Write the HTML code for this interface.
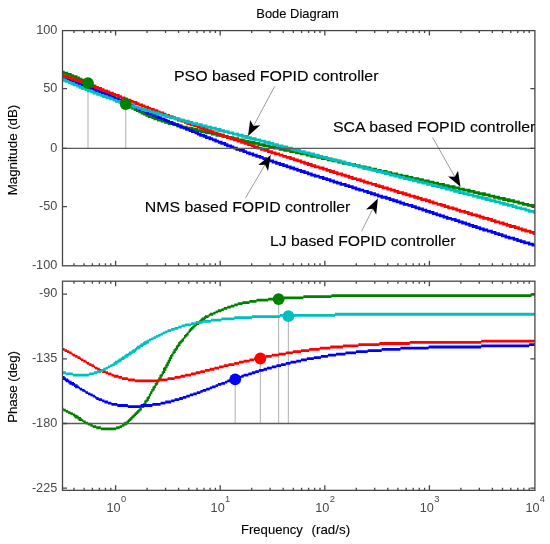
<!DOCTYPE html>
<html><head><meta charset="utf-8"><title>Bode Diagram</title>
<style>html,body{margin:0;padding:0;background:#fff}svg{display:block}</style></head>
<body>
<svg width="550" height="544" viewBox="0 0 550 544" style="display:block" font-family='"Liberation Sans", Arial, Helvetica, sans-serif'>
<rect width="550" height="544" fill="#fff"/>
<defs><clipPath id="c1"><rect x="62.5" y="30.6" width="472.4" height="235.20000000000002"/></clipPath><clipPath id="c2"><rect x="62.5" y="281.2" width="472.4" height="209.15000000000003"/></clipPath></defs>
<line x1="88.0" x2="88.0" y1="83.1" y2="148.3" stroke="#bcbcbc" stroke-width="1.2"/>
<line x1="125.7" x2="125.7" y1="104.0" y2="148.3" stroke="#bcbcbc" stroke-width="1.2"/>
<g clip-path="url(#c1)" fill="none" stroke-linejoin="round">
<path d="M59.97,69.50L61.14,69.50L61.14,70.67L64.65,70.67L64.65,71.84L68.16,71.84L68.16,73.01L71.67,73.01L71.67,74.18L74.01,74.18L74.01,75.35L77.52,75.35L77.52,76.52L79.86,76.52L79.86,77.69L82.20,77.69L82.20,78.86L84.54,78.86L84.54,80.03L86.88,80.03L86.88,81.20L89.22,81.20L89.22,82.37L91.56,82.37L91.56,83.54L93.90,83.54L93.90,84.71L96.24,84.71L96.24,85.88L98.58,85.88L98.58,87.05L100.92,87.05L100.92,88.22L102.09,88.22L102.09,89.39L104.43,89.39L104.43,90.56L106.77,90.56L106.77,91.73L107.94,91.73L107.94,92.90L110.28,92.90L110.28,94.07L112.62,94.07L112.62,95.24L114.96,95.24L114.96,96.41L116.13,96.41L116.13,97.58L118.47,97.58L118.47,98.75L120.81,98.75L120.81,99.92L123.15,99.92L123.15,101.09L124.32,101.09L124.32,102.26L126.66,102.26L126.66,103.43L129.00,103.43L129.00,104.60L131.34,104.60L131.34,105.77L132.51,105.77L132.51,106.94L134.85,106.94L134.85,108.11L137.19,108.11L137.19,109.28L139.53,109.28L139.53,110.45L141.87,110.45L141.87,111.62L145.38,111.62L145.38,112.79L147.72,112.79L147.72,113.96L150.06,113.96L150.06,115.13L153.57,115.13L153.57,116.30L155.91,116.30L155.91,117.47L159.42,117.47L159.42,118.64L162.93,118.64L162.93,119.81L166.44,119.81L166.44,120.98L169.95,120.98L169.95,122.15L174.63,122.15L174.63,123.32L178.14,123.32L178.14,124.49L182.82,124.49L182.82,125.66L187.50,125.66L187.50,126.83L193.35,126.83L193.35,128.00L198.03,128.00L198.03,129.17L202.71,129.17L202.71,130.34L208.56,130.34L208.56,131.51L213.24,131.51L213.24,132.68L219.09,132.68L219.09,133.85L223.77,133.85L223.77,135.02L228.45,135.02L228.45,136.19L234.30,136.19L234.30,137.36L238.98,137.36L238.98,138.53L244.83,138.53L244.83,139.70L249.51,139.70L249.51,140.87L255.36,140.87L255.36,142.04L260.04,142.04L260.04,143.21L265.89,143.21L265.89,144.38L270.57,144.38L270.57,145.55L276.42,145.55L276.42,146.72L281.10,146.72L281.10,147.89L286.95,147.89L286.95,149.06L291.63,149.06L291.63,150.23L297.48,150.23L297.48,151.40L303.33,151.40L303.33,152.57L308.01,152.57L308.01,153.74L313.86,153.74L313.86,154.91L318.54,154.91L318.54,156.08L324.39,156.08L324.39,157.25L329.07,157.25L329.07,158.42L334.92,158.42L334.92,159.59L339.60,159.59L339.60,160.76L345.45,160.76L345.45,161.93L350.13,161.93L350.13,163.10L355.98,163.10L355.98,164.27L360.66,164.27L360.66,165.44L366.51,165.44L366.51,166.61L371.19,166.61L371.19,167.78L377.04,167.78L377.04,168.95L381.72,168.95L381.72,170.12L387.57,170.12L387.57,171.29L392.25,171.29L392.25,172.46L398.10,172.46L398.10,173.63L402.78,173.63L402.78,174.80L408.63,174.80L408.63,175.97L413.31,175.97L413.31,177.14L419.16,177.14L419.16,178.31L423.84,178.31L423.84,179.48L429.69,179.48L429.69,180.65L434.37,180.65L434.37,181.82L439.05,181.82L439.05,182.99L444.90,182.99L444.90,184.16L449.58,184.16L449.58,185.33L455.43,185.33L455.43,186.50L460.11,186.50L460.11,187.67L464.79,187.67L464.79,188.84L470.64,188.84L470.64,190.01L475.32,190.01L475.32,191.18L480.00,191.18L480.00,192.35L485.85,192.35L485.85,193.52L490.53,193.52L490.53,194.69L495.21,194.69L495.21,195.86L499.89,195.86L499.89,197.03L505.74,197.03L505.74,198.20L510.42,198.20L510.42,199.37L515.10,199.37L515.10,200.54L519.78,200.54L519.78,201.71L524.46,201.71L524.46,202.88L529.14,202.88L529.14,204.05L534.99,204.05L534.99,205.22L537.33,205.22L537.33,209.17L536.16,209.17L536.16,208.00L531.48,208.00L531.48,206.83L526.80,206.83L526.80,205.66L522.12,205.66L522.12,204.49L517.44,204.49L517.44,203.32L512.76,203.32L512.76,202.15L506.91,202.15L506.91,200.98L502.23,200.98L502.23,199.81L497.55,199.81L497.55,198.64L492.87,198.64L492.87,197.47L488.19,197.47L488.19,196.30L482.34,196.30L482.34,195.13L477.66,195.13L477.66,193.96L472.98,193.96L472.98,192.79L467.13,192.79L467.13,191.62L462.45,191.62L462.45,190.45L457.77,190.45L457.77,189.28L451.92,189.28L451.92,188.11L447.24,188.11L447.24,186.94L441.39,186.94L441.39,185.77L436.71,185.77L436.71,184.60L432.03,184.60L432.03,183.43L426.18,183.43L426.18,182.26L421.50,182.26L421.50,181.09L415.65,181.09L415.65,179.92L410.97,179.92L410.97,178.75L405.12,178.75L405.12,177.58L400.44,177.58L400.44,176.41L394.59,176.41L394.59,175.24L389.91,175.24L389.91,174.07L384.06,174.07L384.06,172.90L379.38,172.90L379.38,171.73L373.53,171.73L373.53,170.56L368.85,170.56L368.85,169.39L363.00,169.39L363.00,168.22L358.32,168.22L358.32,167.05L352.47,167.05L352.47,165.88L347.79,165.88L347.79,164.71L341.94,164.71L341.94,163.54L337.26,163.54L337.26,162.37L331.41,162.37L331.41,161.20L326.73,161.20L326.73,160.03L320.88,160.03L320.88,158.86L316.20,158.86L316.20,157.69L310.35,157.69L310.35,156.52L305.67,156.52L305.67,155.35L299.82,155.35L299.82,154.18L295.14,154.18L295.14,153.01L289.29,153.01L289.29,151.84L283.44,151.84L283.44,150.67L278.76,150.67L278.76,149.50L272.91,149.50L272.91,148.33L268.23,148.33L268.23,147.16L262.38,147.16L262.38,145.99L257.70,145.99L257.70,144.82L251.85,144.82L251.85,143.65L247.17,143.65L247.17,142.48L241.32,142.48L241.32,141.31L236.64,141.31L236.64,140.14L231.96,140.14L231.96,138.97L226.11,138.97L226.11,137.80L221.43,137.80L221.43,136.63L215.58,136.63L215.58,135.46L210.90,135.46L210.90,134.29L205.05,134.29L205.05,133.12L200.37,133.12L200.37,131.95L195.69,131.95L195.69,130.78L189.84,130.78L189.84,129.61L185.16,129.61L185.16,128.44L180.48,128.44L180.48,127.27L175.80,127.27L175.80,126.10L172.29,126.10L172.29,124.93L167.61,124.93L167.61,123.76L164.10,123.76L164.10,122.59L160.59,122.59L160.59,121.42L157.08,121.42L157.08,120.25L153.57,120.25L153.57,119.08L151.23,119.08L151.23,117.91L147.72,117.91L147.72,116.74L145.38,116.74L145.38,115.57L143.04,115.57L143.04,114.40L140.70,114.40L140.70,113.23L138.36,113.23L138.36,112.06L136.02,112.06L136.02,110.89L133.68,110.89L133.68,109.72L131.34,109.72L131.34,108.55L129.00,108.55L129.00,107.38L126.66,107.38L126.66,106.21L125.49,106.21L125.49,105.04L123.15,105.04L123.15,103.87L120.81,103.87L120.81,102.70L118.47,102.70L118.47,101.53L117.30,101.53L117.30,100.36L114.96,100.36L114.96,99.19L112.62,99.19L112.62,98.02L110.28,98.02L110.28,96.85L109.11,96.85L109.11,95.68L106.77,95.68L106.77,94.51L104.43,94.51L104.43,93.34L103.26,93.34L103.26,92.17L100.92,92.17L100.92,91.00L98.58,91.00L98.58,89.83L96.24,89.83L96.24,88.66L93.90,88.66L93.90,87.49L92.73,87.49L92.73,86.32L90.39,86.32L90.39,85.15L88.05,85.15L88.05,83.98L85.71,83.98L85.71,82.81L83.37,82.81L83.37,81.64L81.03,81.64L81.03,80.47L77.52,80.47L77.52,79.30L75.18,79.30L75.18,78.13L72.84,78.13L72.84,76.96L69.33,76.96L69.33,75.79L65.82,75.79L65.82,74.62L62.31,74.62L62.31,73.45L59.97,73.45Z" fill="#008000"/>
<path d="M59.97,75.35L63.48,75.35L63.48,76.52L66.99,76.52L66.99,77.69L70.50,77.69L70.50,78.86L72.84,78.86L72.84,80.03L76.35,80.03L76.35,81.20L79.86,81.20L79.86,82.37L82.20,82.37L82.20,83.54L85.71,83.54L85.71,84.71L88.05,84.71L88.05,85.88L91.56,85.88L91.56,87.05L93.90,87.05L93.90,88.22L97.41,88.22L97.41,89.39L99.75,89.39L99.75,90.56L102.09,90.56L102.09,91.73L105.60,91.73L105.60,92.90L107.94,92.90L107.94,94.07L111.45,94.07L111.45,95.24L113.79,95.24L113.79,96.41L116.13,96.41L116.13,97.58L119.64,97.58L119.64,98.75L121.98,98.75L121.98,99.92L124.32,99.92L124.32,101.09L126.66,101.09L126.66,102.26L130.17,102.26L130.17,103.43L132.51,103.43L132.51,104.60L134.85,104.60L134.85,105.77L138.36,105.77L138.36,106.94L140.70,106.94L140.70,108.11L143.04,108.11L143.04,109.28L146.55,109.28L146.55,110.45L148.89,110.45L148.89,111.62L151.23,111.62L151.23,112.79L153.57,112.79L153.57,113.96L157.08,113.96L157.08,115.13L159.42,115.13L159.42,116.30L161.76,116.30L161.76,117.47L165.27,117.47L165.27,118.64L167.61,118.64L167.61,119.81L169.95,119.81L169.95,120.98L173.46,120.98L173.46,122.15L175.80,122.15L175.80,123.32L179.31,123.32L179.31,124.49L181.65,124.49L181.65,125.66L183.99,125.66L183.99,126.83L187.50,126.83L187.50,128.00L189.84,128.00L189.84,129.17L193.35,129.17L193.35,130.34L195.69,130.34L195.69,131.51L199.20,131.51L199.20,132.68L201.54,132.68L201.54,133.85L205.05,133.85L205.05,135.02L207.39,135.02L207.39,136.19L210.90,136.19L210.90,137.36L213.24,137.36L213.24,138.53L216.75,138.53L216.75,139.70L219.09,139.70L219.09,140.87L222.60,140.87L222.60,142.04L226.11,142.04L226.11,143.21L228.45,143.21L228.45,144.38L231.96,144.38L231.96,145.55L234.30,145.55L234.30,146.72L237.81,146.72L237.81,147.89L241.32,147.89L241.32,149.06L244.83,149.06L244.83,150.23L247.17,150.23L247.17,151.40L250.68,151.40L250.68,152.57L254.19,152.57L254.19,153.74L257.70,153.74L257.70,154.91L261.21,154.91L261.21,156.08L263.55,156.08L263.55,157.25L267.06,157.25L267.06,158.42L270.57,158.42L270.57,159.59L274.08,159.59L274.08,160.76L277.59,160.76L277.59,161.93L281.10,161.93L281.10,163.10L284.61,163.10L284.61,164.27L288.12,164.27L288.12,165.44L291.63,165.44L291.63,166.61L295.14,166.61L295.14,167.78L298.65,167.78L298.65,168.95L302.16,168.95L302.16,170.12L305.67,170.12L305.67,171.29L309.18,171.29L309.18,172.46L312.69,172.46L312.69,173.63L316.20,173.63L316.20,174.80L319.71,174.80L319.71,175.97L324.39,175.97L324.39,177.14L327.90,177.14L327.90,178.31L331.41,178.31L331.41,179.48L334.92,179.48L334.92,180.65L338.43,180.65L338.43,181.82L341.94,181.82L341.94,182.99L346.62,182.99L346.62,184.16L350.13,184.16L350.13,185.33L353.64,185.33L353.64,186.50L357.15,186.50L357.15,187.67L360.66,187.67L360.66,188.84L364.17,188.84L364.17,190.01L368.85,190.01L368.85,191.18L372.36,191.18L372.36,192.35L375.87,192.35L375.87,193.52L379.38,193.52L379.38,194.69L382.89,194.69L382.89,195.86L387.57,195.86L387.57,197.03L391.08,197.03L391.08,198.20L394.59,198.20L394.59,199.37L398.10,199.37L398.10,200.54L401.61,200.54L401.61,201.71L405.12,201.71L405.12,202.88L408.63,202.88L408.63,204.05L413.31,204.05L413.31,205.22L416.82,205.22L416.82,206.39L420.33,206.39L420.33,207.56L423.84,207.56L423.84,208.73L427.35,208.73L427.35,209.90L430.86,209.90L430.86,211.07L434.37,211.07L434.37,212.24L437.88,212.24L437.88,213.41L441.39,213.41L441.39,214.58L444.90,214.58L444.90,215.75L448.41,215.75L448.41,216.92L451.92,216.92L451.92,218.09L456.60,218.09L456.60,219.26L460.11,219.26L460.11,220.43L463.62,220.43L463.62,221.60L467.13,221.60L467.13,222.77L470.64,222.77L470.64,223.94L474.15,223.94L474.15,225.11L477.66,225.11L477.66,226.28L481.17,226.28L481.17,227.45L484.68,227.45L484.68,228.62L488.19,228.62L488.19,229.79L492.87,229.79L492.87,230.96L496.38,230.96L496.38,232.13L499.89,232.13L499.89,233.30L503.40,233.30L503.40,234.47L506.91,234.47L506.91,235.64L510.42,235.64L510.42,236.81L515.10,236.81L515.10,237.98L518.61,237.98L518.61,239.15L522.12,239.15L522.12,240.32L525.63,240.32L525.63,241.49L530.31,241.49L530.31,242.66L533.82,242.66L533.82,243.83L537.33,243.83L537.33,247.78L534.99,247.78L534.99,246.61L531.48,246.61L531.48,245.44L527.97,245.44L527.97,244.27L523.29,244.27L523.29,243.10L519.78,243.10L519.78,241.93L516.27,241.93L516.27,240.76L512.76,240.76L512.76,239.59L508.08,239.59L508.08,238.42L504.57,238.42L504.57,237.25L501.06,237.25L501.06,236.08L497.55,236.08L497.55,234.91L494.04,234.91L494.04,233.74L490.53,233.74L490.53,232.57L487.02,232.57L487.02,231.40L482.34,231.40L482.34,230.23L478.83,230.23L478.83,229.06L475.32,229.06L475.32,227.89L471.81,227.89L471.81,226.72L468.30,226.72L468.30,225.55L464.79,225.55L464.79,224.38L461.28,224.38L461.28,223.21L457.77,223.21L457.77,222.04L454.26,222.04L454.26,220.87L450.75,220.87L450.75,219.70L446.07,219.70L446.07,218.53L442.56,218.53L442.56,217.36L439.05,217.36L439.05,216.19L435.54,216.19L435.54,215.02L432.03,215.02L432.03,213.85L428.52,213.85L428.52,212.68L425.01,212.68L425.01,211.51L421.50,211.51L421.50,210.34L417.99,210.34L417.99,209.17L414.48,209.17L414.48,208.00L410.97,208.00L410.97,206.83L407.46,206.83L407.46,205.66L402.78,205.66L402.78,204.49L399.27,204.49L399.27,203.32L395.76,203.32L395.76,202.15L392.25,202.15L392.25,200.98L388.74,200.98L388.74,199.81L385.23,199.81L385.23,198.64L380.55,198.64L380.55,197.47L377.04,197.47L377.04,196.30L373.53,196.30L373.53,195.13L370.02,195.13L370.02,193.96L366.51,193.96L366.51,192.79L363.00,192.79L363.00,191.62L358.32,191.62L358.32,190.45L354.81,190.45L354.81,189.28L351.30,189.28L351.30,188.11L347.79,188.11L347.79,186.94L344.28,186.94L344.28,185.77L339.60,185.77L339.60,184.60L336.09,184.60L336.09,183.43L332.58,183.43L332.58,182.26L329.07,182.26L329.07,181.09L325.56,181.09L325.56,179.92L322.05,179.92L322.05,178.75L318.54,178.75L318.54,177.58L313.86,177.58L313.86,176.41L310.35,176.41L310.35,175.24L306.84,175.24L306.84,174.07L303.33,174.07L303.33,172.90L299.82,172.90L299.82,171.73L296.31,171.73L296.31,170.56L292.80,170.56L292.80,169.39L289.29,169.39L289.29,168.22L285.78,168.22L285.78,167.05L282.27,167.05L282.27,165.88L278.76,165.88L278.76,164.71L275.25,164.71L275.25,163.54L271.74,163.54L271.74,162.37L268.23,162.37L268.23,161.20L264.72,161.20L264.72,160.03L262.38,160.03L262.38,158.86L258.87,158.86L258.87,157.69L255.36,157.69L255.36,156.52L251.85,156.52L251.85,155.35L248.34,155.35L248.34,154.18L246.00,154.18L246.00,153.01L242.49,153.01L242.49,151.84L238.98,151.84L238.98,150.67L235.47,150.67L235.47,149.50L233.13,149.50L233.13,148.33L229.62,148.33L229.62,147.16L226.11,147.16L226.11,145.99L223.77,145.99L223.77,144.82L220.26,144.82L220.26,143.65L217.92,143.65L217.92,142.48L214.41,142.48L214.41,141.31L212.07,141.31L212.07,140.14L208.56,140.14L208.56,138.97L205.05,138.97L205.05,137.80L202.71,137.80L202.71,136.63L199.20,136.63L199.20,135.46L196.86,135.46L196.86,134.29L194.52,134.29L194.52,133.12L191.01,133.12L191.01,131.95L188.67,131.95L188.67,130.78L185.16,130.78L185.16,129.61L182.82,129.61L182.82,128.44L179.31,128.44L179.31,127.27L176.97,127.27L176.97,126.10L174.63,126.10L174.63,124.93L171.12,124.93L171.12,123.76L168.78,123.76L168.78,122.59L166.44,122.59L166.44,121.42L162.93,121.42L162.93,120.25L160.59,120.25L160.59,119.08L157.08,119.08L157.08,117.91L154.74,117.91L154.74,116.74L152.40,116.74L152.40,115.57L150.06,115.57L150.06,114.40L146.55,114.40L146.55,113.23L144.21,113.23L144.21,112.06L141.87,112.06L141.87,110.89L138.36,110.89L138.36,109.72L136.02,109.72L136.02,108.55L133.68,108.55L133.68,107.38L130.17,107.38L130.17,106.21L127.83,106.21L127.83,105.04L125.49,105.04L125.49,103.87L123.15,103.87L123.15,102.70L119.64,102.70L119.64,101.53L117.30,101.53L117.30,100.36L114.96,100.36L114.96,99.19L111.45,99.19L111.45,98.02L109.11,98.02L109.11,96.85L106.77,96.85L106.77,95.68L103.26,95.68L103.26,94.51L100.92,94.51L100.92,93.34L97.41,93.34L97.41,92.17L95.07,92.17L95.07,91.00L92.73,91.00L92.73,89.83L89.22,89.83L89.22,88.66L86.88,88.66L86.88,87.49L83.37,87.49L83.37,86.32L79.86,86.32L79.86,85.15L77.52,85.15L77.52,83.98L74.01,83.98L74.01,82.81L71.67,82.81L71.67,81.64L68.16,81.64L68.16,80.47L64.65,80.47L64.65,79.30L61.14,79.30L61.14,78.13L59.97,78.13Z" fill="#0000ff"/>
<path d="M59.97,73.01L62.31,73.01L62.31,74.18L65.82,74.18L65.82,75.35L69.33,75.35L69.33,76.52L72.84,76.52L72.84,77.69L76.35,77.69L76.35,78.86L79.86,78.86L79.86,80.03L83.37,80.03L83.37,81.20L86.88,81.20L86.88,82.37L89.22,82.37L89.22,83.54L92.73,83.54L92.73,84.71L96.24,84.71L96.24,85.88L98.58,85.88L98.58,87.05L102.09,87.05L102.09,88.22L104.43,88.22L104.43,89.39L107.94,89.39L107.94,90.56L110.28,90.56L110.28,91.73L113.79,91.73L113.79,92.90L116.13,92.90L116.13,94.07L119.64,94.07L119.64,95.24L121.98,95.24L121.98,96.41L125.49,96.41L125.49,97.58L127.83,97.58L127.83,98.75L131.34,98.75L131.34,99.92L133.68,99.92L133.68,101.09L137.19,101.09L137.19,102.26L139.53,102.26L139.53,103.43L143.04,103.43L143.04,104.60L145.38,104.60L145.38,105.77L148.89,105.77L148.89,106.94L151.23,106.94L151.23,108.11L154.74,108.11L154.74,109.28L158.25,109.28L158.25,110.45L160.59,110.45L160.59,111.62L164.10,111.62L164.10,112.79L166.44,112.79L166.44,113.96L169.95,113.96L169.95,115.13L173.46,115.13L173.46,116.30L175.80,116.30L175.80,117.47L179.31,117.47L179.31,118.64L182.82,118.64L182.82,119.81L185.16,119.81L185.16,120.98L188.67,120.98L188.67,122.15L192.18,122.15L192.18,123.32L195.69,123.32L195.69,124.49L198.03,124.49L198.03,125.66L201.54,125.66L201.54,126.83L205.05,126.83L205.05,128.00L208.56,128.00L208.56,129.17L212.07,129.17L212.07,130.34L214.41,130.34L214.41,131.51L217.92,131.51L217.92,132.68L221.43,132.68L221.43,133.85L224.94,133.85L224.94,135.02L228.45,135.02L228.45,136.19L231.96,136.19L231.96,137.36L235.47,137.36L235.47,138.53L238.98,138.53L238.98,139.70L242.49,139.70L242.49,140.87L244.83,140.87L244.83,142.04L248.34,142.04L248.34,143.21L251.85,143.21L251.85,144.38L255.36,144.38L255.36,145.55L258.87,145.55L258.87,146.72L262.38,146.72L262.38,147.89L265.89,147.89L265.89,149.06L269.40,149.06L269.40,150.23L272.91,150.23L272.91,151.40L276.42,151.40L276.42,152.57L279.93,152.57L279.93,153.74L283.44,153.74L283.44,154.91L286.95,154.91L286.95,156.08L291.63,156.08L291.63,157.25L295.14,157.25L295.14,158.42L298.65,158.42L298.65,159.59L302.16,159.59L302.16,160.76L305.67,160.76L305.67,161.93L309.18,161.93L309.18,163.10L312.69,163.10L312.69,164.27L316.20,164.27L316.20,165.44L319.71,165.44L319.71,166.61L324.39,166.61L324.39,167.78L327.90,167.78L327.90,168.95L331.41,168.95L331.41,170.12L334.92,170.12L334.92,171.29L338.43,171.29L338.43,172.46L343.11,172.46L343.11,173.63L346.62,173.63L346.62,174.80L350.13,174.80L350.13,175.97L353.64,175.97L353.64,177.14L357.15,177.14L357.15,178.31L361.83,178.31L361.83,179.48L365.34,179.48L365.34,180.65L368.85,180.65L368.85,181.82L372.36,181.82L372.36,182.99L377.04,182.99L377.04,184.16L380.55,184.16L380.55,185.33L384.06,185.33L384.06,186.50L388.74,186.50L388.74,187.67L392.25,187.67L392.25,188.84L395.76,188.84L395.76,190.01L399.27,190.01L399.27,191.18L403.95,191.18L403.95,192.35L407.46,192.35L407.46,193.52L410.97,193.52L410.97,194.69L415.65,194.69L415.65,195.86L419.16,195.86L419.16,197.03L422.67,197.03L422.67,198.20L427.35,198.20L427.35,199.37L430.86,199.37L430.86,200.54L434.37,200.54L434.37,201.71L437.88,201.71L437.88,202.88L442.56,202.88L442.56,204.05L446.07,204.05L446.07,205.22L449.58,205.22L449.58,206.39L454.26,206.39L454.26,207.56L457.77,207.56L457.77,208.73L461.28,208.73L461.28,209.90L465.96,209.90L465.96,211.07L469.47,211.07L469.47,212.24L472.98,212.24L472.98,213.41L477.66,213.41L477.66,214.58L481.17,214.58L481.17,215.75L484.68,215.75L484.68,216.92L489.36,216.92L489.36,218.09L492.87,218.09L492.87,219.26L496.38,219.26L496.38,220.43L499.89,220.43L499.89,221.60L504.57,221.60L504.57,222.77L508.08,222.77L508.08,223.94L511.59,223.94L511.59,225.11L516.27,225.11L516.27,226.28L519.78,226.28L519.78,227.45L523.29,227.45L523.29,228.62L526.80,228.62L526.80,229.79L531.48,229.79L531.48,230.96L534.99,230.96L534.99,232.13L537.33,232.13L537.33,236.08L536.16,236.08L536.16,234.91L532.65,234.91L532.65,233.74L529.14,233.74L529.14,232.57L524.46,232.57L524.46,231.40L520.95,231.40L520.95,230.23L517.44,230.23L517.44,229.06L513.93,229.06L513.93,227.89L509.25,227.89L509.25,226.72L505.74,226.72L505.74,225.55L502.23,225.55L502.23,224.38L498.72,224.38L498.72,223.21L494.04,223.21L494.04,222.04L490.53,222.04L490.53,220.87L487.02,220.87L487.02,219.70L482.34,219.70L482.34,218.53L478.83,218.53L478.83,217.36L475.32,217.36L475.32,216.19L470.64,216.19L470.64,215.02L467.13,215.02L467.13,213.85L463.62,213.85L463.62,212.68L458.94,212.68L458.94,211.51L455.43,211.51L455.43,210.34L451.92,210.34L451.92,209.17L447.24,209.17L447.24,208.00L443.73,208.00L443.73,206.83L440.22,206.83L440.22,205.66L436.71,205.66L436.71,204.49L432.03,204.49L432.03,203.32L428.52,203.32L428.52,202.15L425.01,202.15L425.01,200.98L420.33,200.98L420.33,199.81L416.82,199.81L416.82,198.64L413.31,198.64L413.31,197.47L408.63,197.47L408.63,196.30L405.12,196.30L405.12,195.13L401.61,195.13L401.61,193.96L396.93,193.96L396.93,192.79L393.42,192.79L393.42,191.62L389.91,191.62L389.91,190.45L386.40,190.45L386.40,189.28L381.72,189.28L381.72,188.11L378.21,188.11L378.21,186.94L374.70,186.94L374.70,185.77L371.19,185.77L371.19,184.60L366.51,184.60L366.51,183.43L363.00,183.43L363.00,182.26L359.49,182.26L359.49,181.09L355.98,181.09L355.98,179.92L351.30,179.92L351.30,178.75L347.79,178.75L347.79,177.58L344.28,177.58L344.28,176.41L340.77,176.41L340.77,175.24L336.09,175.24L336.09,174.07L332.58,174.07L332.58,172.90L329.07,172.90L329.07,171.73L325.56,171.73L325.56,170.56L322.05,170.56L322.05,169.39L318.54,169.39L318.54,168.22L313.86,168.22L313.86,167.05L310.35,167.05L310.35,165.88L306.84,165.88L306.84,164.71L303.33,164.71L303.33,163.54L299.82,163.54L299.82,162.37L296.31,162.37L296.31,161.20L292.80,161.20L292.80,160.03L289.29,160.03L289.29,158.86L285.78,158.86L285.78,157.69L282.27,157.69L282.27,156.52L278.76,156.52L278.76,155.35L274.08,155.35L274.08,154.18L270.57,154.18L270.57,153.01L267.06,153.01L267.06,151.84L263.55,151.84L263.55,150.67L260.04,150.67L260.04,149.50L256.53,149.50L256.53,148.33L253.02,148.33L253.02,147.16L250.68,147.16L250.68,145.99L247.17,145.99L247.17,144.82L243.66,144.82L243.66,143.65L240.15,143.65L240.15,142.48L236.64,142.48L236.64,141.31L233.13,141.31L233.13,140.14L229.62,140.14L229.62,138.97L226.11,138.97L226.11,137.80L222.60,137.80L222.60,136.63L219.09,136.63L219.09,135.46L216.75,135.46L216.75,134.29L213.24,134.29L213.24,133.12L209.73,133.12L209.73,131.95L206.22,131.95L206.22,130.78L202.71,130.78L202.71,129.61L199.20,129.61L199.20,128.44L196.86,128.44L196.86,127.27L193.35,127.27L193.35,126.10L189.84,126.10L189.84,124.93L186.33,124.93L186.33,123.76L183.99,123.76L183.99,122.59L180.48,122.59L180.48,121.42L176.97,121.42L176.97,120.25L174.63,120.25L174.63,119.08L171.12,119.08L171.12,117.91L167.61,117.91L167.61,116.74L165.27,116.74L165.27,115.57L161.76,115.57L161.76,114.40L158.25,114.40L158.25,113.23L155.91,113.23L155.91,112.06L152.40,112.06L152.40,110.89L150.06,110.89L150.06,109.72L146.55,109.72L146.55,108.55L144.21,108.55L144.21,107.38L140.70,107.38L140.70,106.21L138.36,106.21L138.36,105.04L134.85,105.04L134.85,103.87L132.51,103.87L132.51,102.70L129.00,102.70L129.00,101.53L126.66,101.53L126.66,100.36L123.15,100.36L123.15,99.19L120.81,99.19L120.81,98.02L117.30,98.02L117.30,96.85L114.96,96.85L114.96,95.68L111.45,95.68L111.45,94.51L109.11,94.51L109.11,93.34L105.60,93.34L105.60,92.17L103.26,92.17L103.26,91.00L99.75,91.00L99.75,89.83L97.41,89.83L97.41,88.66L93.90,88.66L93.90,87.49L90.39,87.49L90.39,86.32L88.05,86.32L88.05,85.15L84.54,85.15L84.54,83.98L81.03,83.98L81.03,82.81L77.52,82.81L77.52,81.64L74.01,81.64L74.01,80.47L70.50,80.47L70.50,79.30L66.99,79.30L66.99,78.13L63.48,78.13L63.48,76.96L59.97,76.96Z" fill="#ff0000"/>
<path d="M59.97,76.52L61.14,76.52L61.14,77.69L64.65,77.69L64.65,78.86L66.99,78.86L66.99,80.03L69.33,80.03L69.33,81.20L71.67,81.20L71.67,82.37L75.18,82.37L75.18,83.54L77.52,83.54L77.52,84.71L81.03,84.71L81.03,85.88L83.37,85.88L83.37,87.05L85.71,87.05L85.71,88.22L89.22,88.22L89.22,89.39L91.56,89.39L91.56,90.56L95.07,90.56L95.07,91.73L98.58,91.73L98.58,92.90L100.92,92.90L100.92,94.07L104.43,94.07L104.43,95.24L107.94,95.24L107.94,96.41L111.45,96.41L111.45,97.58L113.79,97.58L113.79,98.75L117.30,98.75L117.30,99.92L120.81,99.92L120.81,101.09L124.32,101.09L124.32,102.26L127.83,102.26L127.83,103.43L131.34,103.43L131.34,104.60L134.85,104.60L134.85,105.77L139.53,105.77L139.53,106.94L143.04,106.94L143.04,108.11L146.55,108.11L146.55,109.28L151.23,109.28L151.23,110.45L154.74,110.45L154.74,111.62L159.42,111.62L159.42,112.79L162.93,112.79L162.93,113.96L167.61,113.96L167.61,115.13L171.12,115.13L171.12,116.30L175.80,116.30L175.80,117.47L180.48,117.47L180.48,118.64L185.16,118.64L185.16,119.81L189.84,119.81L189.84,120.98L193.35,120.98L193.35,122.15L198.03,122.15L198.03,123.32L202.71,123.32L202.71,124.49L207.39,124.49L207.39,125.66L212.07,125.66L212.07,126.83L216.75,126.83L216.75,128.00L221.43,128.00L221.43,129.17L224.94,129.17L224.94,130.34L229.62,130.34L229.62,131.51L234.30,131.51L234.30,132.68L238.98,132.68L238.98,133.85L243.66,133.85L243.66,135.02L248.34,135.02L248.34,136.19L251.85,136.19L251.85,137.36L256.53,137.36L256.53,138.53L261.21,138.53L261.21,139.70L265.89,139.70L265.89,140.87L270.57,140.87L270.57,142.04L274.08,142.04L274.08,143.21L278.76,143.21L278.76,144.38L283.44,144.38L283.44,145.55L288.12,145.55L288.12,146.72L292.80,146.72L292.80,147.89L297.48,147.89L297.48,149.06L300.99,149.06L300.99,150.23L305.67,150.23L305.67,151.40L310.35,151.40L310.35,152.57L315.03,152.57L315.03,153.74L319.71,153.74L319.71,154.91L323.22,154.91L323.22,156.08L327.90,156.08L327.90,157.25L332.58,157.25L332.58,158.42L337.26,158.42L337.26,159.59L341.94,159.59L341.94,160.76L346.62,160.76L346.62,161.93L351.30,161.93L351.30,163.10L354.81,163.10L354.81,164.27L359.49,164.27L359.49,165.44L364.17,165.44L364.17,166.61L368.85,166.61L368.85,167.78L373.53,167.78L373.53,168.95L378.21,168.95L378.21,170.12L382.89,170.12L382.89,171.29L387.57,171.29L387.57,172.46L391.08,172.46L391.08,173.63L395.76,173.63L395.76,174.80L400.44,174.80L400.44,175.97L405.12,175.97L405.12,177.14L409.80,177.14L409.80,178.31L414.48,178.31L414.48,179.48L419.16,179.48L419.16,180.65L423.84,180.65L423.84,181.82L428.52,181.82L428.52,182.99L433.20,182.99L433.20,184.16L437.88,184.16L437.88,185.33L442.56,185.33L442.56,186.50L447.24,186.50L447.24,187.67L451.92,187.67L451.92,188.84L456.60,188.84L456.60,190.01L461.28,190.01L461.28,191.18L464.79,191.18L464.79,192.35L469.47,192.35L469.47,193.52L474.15,193.52L474.15,194.69L478.83,194.69L478.83,195.86L483.51,195.86L483.51,197.03L488.19,197.03L488.19,198.20L491.70,198.20L491.70,199.37L496.38,199.37L496.38,200.54L501.06,200.54L501.06,201.71L505.74,201.71L505.74,202.88L509.25,202.88L509.25,204.05L513.93,204.05L513.93,205.22L517.44,205.22L517.44,206.39L522.12,206.39L522.12,207.56L526.80,207.56L526.80,208.73L530.31,208.73L530.31,209.90L534.99,209.90L534.99,211.07L537.33,211.07L537.33,215.02L536.16,215.02L536.16,213.85L532.65,213.85L532.65,212.68L527.97,212.68L527.97,211.51L524.46,211.51L524.46,210.34L519.78,210.34L519.78,209.17L515.10,209.17L515.10,208.00L511.59,208.00L511.59,206.83L506.91,206.83L506.91,205.66L502.23,205.66L502.23,204.49L498.72,204.49L498.72,203.32L494.04,203.32L494.04,202.15L489.36,202.15L489.36,200.98L484.68,200.98L484.68,199.81L481.17,199.81L481.17,198.64L476.49,198.64L476.49,197.47L471.81,197.47L471.81,196.30L467.13,196.30L467.13,195.13L462.45,195.13L462.45,193.96L457.77,193.96L457.77,192.79L453.09,192.79L453.09,191.62L449.58,191.62L449.58,190.45L444.90,190.45L444.90,189.28L440.22,189.28L440.22,188.11L435.54,188.11L435.54,186.94L430.86,186.94L430.86,185.77L426.18,185.77L426.18,184.60L421.50,184.60L421.50,183.43L416.82,183.43L416.82,182.26L412.14,182.26L412.14,181.09L407.46,181.09L407.46,179.92L402.78,179.92L402.78,178.75L398.10,178.75L398.10,177.58L393.42,177.58L393.42,176.41L388.74,176.41L388.74,175.24L384.06,175.24L384.06,174.07L380.55,174.07L380.55,172.90L375.87,172.90L375.87,171.73L371.19,171.73L371.19,170.56L366.51,170.56L366.51,169.39L361.83,169.39L361.83,168.22L357.15,168.22L357.15,167.05L352.47,167.05L352.47,165.88L347.79,165.88L347.79,164.71L344.28,164.71L344.28,163.54L339.60,163.54L339.60,162.37L334.92,162.37L334.92,161.20L330.24,161.20L330.24,160.03L325.56,160.03L325.56,158.86L320.88,158.86L320.88,157.69L316.20,157.69L316.20,156.52L312.69,156.52L312.69,155.35L308.01,155.35L308.01,154.18L303.33,154.18L303.33,153.01L298.65,153.01L298.65,151.84L293.97,151.84L293.97,150.67L290.46,150.67L290.46,149.50L285.78,149.50L285.78,148.33L281.10,148.33L281.10,147.16L276.42,147.16L276.42,145.99L271.74,145.99L271.74,144.82L267.06,144.82L267.06,143.65L263.55,143.65L263.55,142.48L258.87,142.48L258.87,141.31L254.19,141.31L254.19,140.14L249.51,140.14L249.51,138.97L244.83,138.97L244.83,137.80L241.32,137.80L241.32,136.63L236.64,136.63L236.64,135.46L231.96,135.46L231.96,134.29L227.28,134.29L227.28,133.12L222.60,133.12L222.60,131.95L217.92,131.95L217.92,130.78L214.41,130.78L214.41,129.61L209.73,129.61L209.73,128.44L205.05,128.44L205.05,127.27L200.37,127.27L200.37,126.10L195.69,126.10L195.69,124.93L191.01,124.93L191.01,123.76L186.33,123.76L186.33,122.59L182.82,122.59L182.82,121.42L178.14,121.42L178.14,120.25L173.46,120.25L173.46,119.08L168.78,119.08L168.78,117.91L165.27,117.91L165.27,116.74L160.59,116.74L160.59,115.57L155.91,115.57L155.91,114.40L152.40,114.40L152.40,113.23L148.89,113.23L148.89,112.06L144.21,112.06L144.21,110.89L140.70,110.89L140.70,109.72L137.19,109.72L137.19,108.55L132.51,108.55L132.51,107.38L129.00,107.38L129.00,106.21L125.49,106.21L125.49,105.04L121.98,105.04L121.98,103.87L118.47,103.87L118.47,102.70L114.96,102.70L114.96,101.53L112.62,101.53L112.62,100.36L109.11,100.36L109.11,99.19L105.60,99.19L105.60,98.02L102.09,98.02L102.09,96.85L99.75,96.85L99.75,95.68L96.24,95.68L96.24,94.51L92.73,94.51L92.73,93.34L90.39,93.34L90.39,92.17L86.88,92.17L86.88,91.00L84.54,91.00L84.54,89.83L81.03,89.83L81.03,88.66L78.69,88.66L78.69,87.49L76.35,87.49L76.35,86.32L72.84,86.32L72.84,85.15L70.50,85.15L70.50,83.98L68.16,83.98L68.16,82.81L64.65,82.81L64.65,81.64L62.31,81.64L62.31,80.47L59.97,80.47Z" fill="#00bfbf"/>
</g>
<line x1="62.5" x2="534.9" y1="148.3" y2="148.3" stroke="#5a5a5a" stroke-width="1.3"/>
<circle cx="88.0" cy="83.1" r="5.9" fill="#008000"/>
<circle cx="125.7" cy="104.0" r="5.9" fill="#008000"/>
<line x1="235.2" x2="235.2" y1="379.3" y2="423.5" stroke="#bcbcbc" stroke-width="1.2"/>
<line x1="260.4" x2="260.4" y1="358.5" y2="423.5" stroke="#bcbcbc" stroke-width="1.2"/>
<line x1="278.6" x2="278.6" y1="299.1" y2="423.5" stroke="#bcbcbc" stroke-width="1.2"/>
<line x1="288.4" x2="288.4" y1="316.2" y2="423.5" stroke="#bcbcbc" stroke-width="1.2"/>
<g clip-path="url(#c2)" fill="none" stroke-linejoin="round">
<path d="M59.97,407.63L63.48,407.63L63.48,408.80L65.82,408.80L65.82,409.97L68.16,409.97L68.16,411.14L70.50,411.14L70.50,412.31L72.84,412.31L72.84,413.48L75.18,413.48L75.18,414.65L77.52,414.65L77.52,415.82L78.69,415.82L78.69,416.99L81.03,416.99L81.03,418.16L82.20,418.16L82.20,419.33L83.37,419.33L83.37,420.50L85.71,420.50L85.71,421.67L88.05,421.67L88.05,422.84L90.39,422.84L90.39,424.01L92.73,424.01L92.73,425.18L96.24,425.18L96.24,426.35L100.92,426.35L100.92,427.52L116.13,427.52L116.13,426.35L119.64,426.35L119.64,425.18L121.98,425.18L121.98,424.01L123.15,424.01L123.15,422.84L124.32,422.84L124.32,421.67L126.66,421.67L126.66,420.50L127.83,420.50L127.83,419.33L129.00,419.33L129.00,418.16L130.17,418.16L130.17,416.99L131.34,416.99L131.34,415.82L132.51,415.82L132.51,414.65L133.68,414.65L133.68,413.48L134.85,413.48L134.85,412.31L136.02,412.31L136.02,411.14L137.19,411.14L137.19,409.97L138.36,409.97L138.36,408.80L139.53,408.80L139.53,407.63L140.70,407.63L140.70,406.46L141.87,406.46L141.87,404.12L143.04,404.12L143.04,402.95L144.21,402.95L144.21,400.61L145.38,400.61L145.38,399.44L146.55,399.44L146.55,397.10L147.72,397.10L147.72,395.93L148.89,395.93L148.89,393.59L150.06,393.59L150.06,391.25L151.23,391.25L151.23,388.91L152.40,388.91L152.40,386.57L153.57,386.57L153.57,385.40L154.74,385.40L154.74,383.06L155.91,383.06L155.91,380.72L157.08,380.72L157.08,379.55L158.25,379.55L158.25,377.21L159.42,377.21L159.42,374.87L160.59,374.87L160.59,373.70L161.76,373.70L161.76,371.36L162.93,371.36L162.93,367.85L164.10,367.85L164.10,366.68L165.27,366.68L165.27,364.34L166.44,364.34L166.44,362.00L167.61,362.00L167.61,359.66L168.78,359.66L168.78,357.32L169.95,357.32L169.95,354.98L171.12,354.98L171.12,353.81L172.29,353.81L172.29,351.47L173.46,351.47L173.46,349.13L174.63,349.13L174.63,347.96L175.80,347.96L175.80,345.62L176.97,345.62L176.97,344.45L178.14,344.45L178.14,342.11L179.31,342.11L179.31,340.94L180.48,340.94L180.48,339.77L181.65,339.77L181.65,338.60L182.82,338.60L182.82,337.43L183.99,337.43L183.99,335.09L185.16,335.09L185.16,333.92L186.33,333.92L186.33,332.75L187.50,332.75L187.50,331.58L188.67,331.58L188.67,329.24L189.84,329.24L189.84,328.07L191.01,328.07L191.01,326.90L192.18,326.90L192.18,325.73L193.35,325.73L193.35,324.56L194.52,324.56L194.52,323.39L195.69,323.39L195.69,322.22L196.86,322.22L196.86,321.05L199.20,321.05L199.20,319.88L200.37,319.88L200.37,318.71L201.54,318.71L201.54,317.54L203.88,317.54L203.88,316.37L205.05,316.37L205.05,315.20L208.56,315.20L208.56,314.03L209.73,314.03L209.73,312.86L213.24,312.86L213.24,311.69L215.58,311.69L215.58,310.52L217.92,310.52L217.92,309.35L221.43,309.35L221.43,308.18L223.77,308.18L223.77,307.01L227.28,307.01L227.28,305.84L230.79,305.84L230.79,304.67L234.30,304.67L234.30,303.50L237.81,303.50L237.81,302.33L242.49,302.33L242.49,301.16L249.51,301.16L249.51,299.99L256.53,299.99L256.53,298.82L268.23,298.82L268.23,297.65L283.44,297.65L283.44,296.48L303.33,296.48L303.33,295.31L331.41,295.31L331.41,294.14L531.48,294.14L531.48,292.97L537.33,292.97L537.33,295.75L531.48,295.75L531.48,296.92L331.41,296.92L331.41,298.09L303.33,298.09L303.33,299.26L283.44,299.26L283.44,300.43L268.23,300.43L268.23,301.60L256.53,301.60L256.53,302.77L249.51,302.77L249.51,303.94L242.49,303.94L242.49,305.11L237.81,305.11L237.81,306.28L234.30,306.28L234.30,307.45L230.79,307.45L230.79,308.62L227.28,308.62L227.28,309.79L223.77,309.79L223.77,310.96L221.43,310.96L221.43,312.13L217.92,312.13L217.92,313.30L215.58,313.30L215.58,314.47L213.24,314.47L213.24,315.64L209.73,315.64L209.73,316.81L208.56,316.81L208.56,317.98L206.22,317.98L206.22,319.15L205.05,319.15L205.05,320.32L203.88,320.32L203.88,321.49L201.54,321.49L201.54,322.66L200.37,322.66L200.37,323.83L199.20,323.83L199.20,325.00L196.86,325.00L196.86,326.17L195.69,326.17L195.69,327.34L194.52,327.34L194.52,328.51L193.35,328.51L193.35,329.68L192.18,329.68L192.18,330.85L191.01,330.85L191.01,332.02L189.84,332.02L189.84,333.19L188.67,333.19L188.67,335.53L187.50,335.53L187.50,336.70L186.33,336.70L186.33,337.87L185.16,337.87L185.16,339.04L183.99,339.04L183.99,341.38L182.82,341.38L182.82,342.55L181.65,342.55L181.65,343.72L180.48,343.72L180.48,346.06L179.31,346.06L179.31,347.23L178.14,347.23L178.14,349.57L176.97,349.57L176.97,350.74L175.80,350.74L175.80,353.08L174.63,353.08L174.63,354.25L173.46,354.25L173.46,356.59L172.29,356.59L172.29,358.93L171.12,358.93L171.12,361.27L169.95,361.27L169.95,363.61L168.78,363.61L168.78,365.95L167.61,365.95L167.61,368.29L166.44,368.29L166.44,370.63L165.27,370.63L165.27,372.97L164.10,372.97L164.10,374.14L162.93,374.14L162.93,376.48L161.76,376.48L161.76,378.82L160.59,378.82L160.59,379.99L159.42,379.99L159.42,382.33L158.25,382.33L158.25,384.67L157.08,384.67L157.08,385.84L155.91,385.84L155.91,388.18L154.74,388.18L154.74,390.52L153.57,390.52L153.57,391.69L152.40,391.69L152.40,394.03L151.23,394.03L151.23,396.37L150.06,396.37L150.06,398.71L148.89,398.71L148.89,401.05L147.72,401.05L147.72,402.22L146.55,402.22L146.55,404.56L145.38,404.56L145.38,405.73L144.21,405.73L144.21,408.07L141.87,408.07L141.87,410.41L140.70,410.41L140.70,411.58L139.53,411.58L139.53,412.75L138.36,412.75L138.36,413.92L137.19,413.92L137.19,415.09L136.02,415.09L136.02,416.26L134.85,416.26L134.85,417.43L133.68,417.43L133.68,418.60L132.51,418.60L132.51,419.77L131.34,419.77L131.34,420.94L130.17,420.94L130.17,422.11L129.00,422.11L129.00,423.28L127.83,423.28L127.83,424.45L126.66,424.45L126.66,425.62L124.32,425.62L124.32,426.79L121.98,426.79L121.98,427.96L119.64,427.96L119.64,429.13L116.13,429.13L116.13,430.30L100.92,430.30L100.92,429.13L96.24,429.13L96.24,427.96L92.73,427.96L92.73,426.79L90.39,426.79L90.39,425.62L88.05,425.62L88.05,424.45L85.71,424.45L85.71,423.28L83.37,423.28L83.37,422.11L82.20,422.11L82.20,420.94L78.69,420.94L78.69,419.77L77.52,419.77L77.52,418.60L75.18,418.60L75.18,417.43L74.01,417.43L74.01,416.26L72.84,416.26L72.84,415.09L70.50,415.09L70.50,413.92L68.16,413.92L68.16,412.75L65.82,412.75L65.82,411.58L63.48,411.58L63.48,410.41L59.97,410.41Z" fill="#008000"/>
<path d="M59.97,374.87L62.31,374.87L62.31,376.04L64.65,376.04L64.65,377.21L65.82,377.21L65.82,378.38L68.16,378.38L68.16,379.55L69.33,379.55L69.33,380.72L71.67,380.72L71.67,381.89L74.01,381.89L74.01,383.06L75.18,383.06L75.18,384.23L77.52,384.23L77.52,385.40L78.69,385.40L78.69,386.57L79.86,386.57L79.86,387.74L82.20,387.74L82.20,388.91L84.54,388.91L84.54,390.08L85.71,390.08L85.71,391.25L88.05,391.25L88.05,392.42L90.39,392.42L90.39,393.59L92.73,393.59L92.73,394.76L95.07,394.76L95.07,395.93L96.24,395.93L96.24,397.10L98.58,397.10L98.58,398.27L102.09,398.27L102.09,399.44L104.43,399.44L104.43,400.61L107.94,400.61L107.94,401.78L111.45,401.78L111.45,402.95L117.30,402.95L117.30,404.12L127.83,404.12L127.83,405.29L140.70,405.29L140.70,404.12L152.40,404.12L152.40,402.95L160.59,402.95L160.59,401.78L165.27,401.78L165.27,400.61L171.12,400.61L171.12,399.44L174.63,399.44L174.63,398.27L179.31,398.27L179.31,397.10L182.82,397.10L182.82,395.93L186.33,395.93L186.33,394.76L189.84,394.76L189.84,393.59L193.35,393.59L193.35,392.42L196.86,392.42L196.86,391.25L200.37,391.25L200.37,390.08L202.71,390.08L202.71,388.91L206.22,388.91L206.22,387.74L209.73,387.74L209.73,386.57L212.07,386.57L212.07,385.40L215.58,385.40L215.58,384.23L217.92,384.23L217.92,383.06L221.43,383.06L221.43,381.89L224.94,381.89L224.94,380.72L227.28,380.72L227.28,379.55L230.79,379.55L230.79,378.38L234.30,378.38L234.30,377.21L237.81,377.21L237.81,376.04L241.32,376.04L241.32,374.87L243.66,374.87L243.66,373.70L248.34,373.70L248.34,372.53L251.85,372.53L251.85,371.36L255.36,371.36L255.36,370.19L258.87,370.19L258.87,369.02L263.55,369.02L263.55,367.85L267.06,367.85L267.06,366.68L271.74,366.68L271.74,365.51L276.42,365.51L276.42,364.34L281.10,364.34L281.10,363.17L285.78,363.17L285.78,362.00L290.46,362.00L290.46,360.83L296.31,360.83L296.31,359.66L300.99,359.66L300.99,358.49L306.84,358.49L306.84,357.32L313.86,357.32L313.86,356.15L320.88,356.15L320.88,354.98L327.90,354.98L327.90,353.81L336.09,353.81L336.09,352.64L345.45,352.64L345.45,351.47L355.98,351.47L355.98,350.30L367.68,350.30L367.68,349.13L381.72,349.13L381.72,347.96L400.44,347.96L400.44,346.79L428.52,346.79L428.52,345.62L481.17,345.62L481.17,344.45L529.14,344.45L529.14,343.28L537.33,343.28L537.33,346.06L529.14,346.06L529.14,347.23L481.17,347.23L481.17,348.40L428.52,348.40L428.52,349.57L400.44,349.57L400.44,350.74L381.72,350.74L381.72,351.91L367.68,351.91L367.68,353.08L355.98,353.08L355.98,354.25L345.45,354.25L345.45,355.42L336.09,355.42L336.09,356.59L327.90,356.59L327.90,357.76L320.88,357.76L320.88,358.93L313.86,358.93L313.86,360.10L306.84,360.10L306.84,361.27L300.99,361.27L300.99,362.44L296.31,362.44L296.31,363.61L290.46,363.61L290.46,364.78L285.78,364.78L285.78,365.95L281.10,365.95L281.10,367.12L276.42,367.12L276.42,368.29L271.74,368.29L271.74,369.46L267.06,369.46L267.06,370.63L263.55,370.63L263.55,371.80L258.87,371.80L258.87,372.97L255.36,372.97L255.36,374.14L251.85,374.14L251.85,375.31L248.34,375.31L248.34,376.48L243.66,376.48L243.66,377.65L241.32,377.65L241.32,378.82L237.81,378.82L237.81,379.99L234.30,379.99L234.30,381.16L230.79,381.16L230.79,382.33L227.28,382.33L227.28,383.50L224.94,383.50L224.94,384.67L221.43,384.67L221.43,385.84L217.92,385.84L217.92,387.01L215.58,387.01L215.58,388.18L212.07,388.18L212.07,389.35L209.73,389.35L209.73,390.52L206.22,390.52L206.22,391.69L202.71,391.69L202.71,392.86L200.37,392.86L200.37,394.03L196.86,394.03L196.86,395.20L193.35,395.20L193.35,396.37L189.84,396.37L189.84,397.54L186.33,397.54L186.33,398.71L182.82,398.71L182.82,399.88L179.31,399.88L179.31,401.05L174.63,401.05L174.63,402.22L171.12,402.22L171.12,403.39L165.27,403.39L165.27,404.56L160.59,404.56L160.59,405.73L152.40,405.73L152.40,406.90L140.70,406.90L140.70,408.07L127.83,408.07L127.83,406.90L117.30,406.90L117.30,405.73L111.45,405.73L111.45,404.56L107.94,404.56L107.94,403.39L104.43,403.39L104.43,402.22L102.09,402.22L102.09,401.05L98.58,401.05L98.58,399.88L96.24,399.88L96.24,398.71L95.07,398.71L95.07,397.54L92.73,397.54L92.73,396.37L90.39,396.37L90.39,395.20L88.05,395.20L88.05,394.03L85.71,394.03L85.71,392.86L84.54,392.86L84.54,391.69L82.20,391.69L82.20,390.52L79.86,390.52L79.86,389.35L78.69,389.35L78.69,388.18L75.18,388.18L75.18,387.01L74.01,387.01L74.01,385.84L71.67,385.84L71.67,384.67L69.33,384.67L69.33,383.50L68.16,383.50L68.16,382.33L65.82,382.33L65.82,381.16L64.65,381.16L64.65,379.99L62.31,379.99L62.31,378.82L59.97,378.82Z" fill="#0000ff"/>
<path d="M59.97,346.79L62.31,346.79L62.31,347.96L64.65,347.96L64.65,349.13L66.99,349.13L66.99,350.30L69.33,350.30L69.33,351.47L71.67,351.47L71.67,352.64L72.84,352.64L72.84,353.81L75.18,353.81L75.18,354.98L77.52,354.98L77.52,356.15L79.86,356.15L79.86,357.32L81.03,357.32L81.03,358.49L83.37,358.49L83.37,359.66L85.71,359.66L85.71,360.83L86.88,360.83L86.88,362.00L89.22,362.00L89.22,363.17L91.56,363.17L91.56,364.34L93.90,364.34L93.90,365.51L95.07,365.51L95.07,366.68L97.41,366.68L97.41,367.85L99.75,367.85L99.75,369.02L102.09,369.02L102.09,370.19L105.60,370.19L105.60,371.36L107.94,371.36L107.94,372.53L111.45,372.53L111.45,373.70L113.79,373.70L113.79,374.87L118.47,374.87L118.47,376.04L121.98,376.04L121.98,377.21L127.83,377.21L127.83,378.38L134.85,378.38L134.85,379.55L159.42,379.55L159.42,378.38L167.61,378.38L167.61,377.21L174.63,377.21L174.63,376.04L180.48,376.04L180.48,374.87L185.16,374.87L185.16,373.70L191.01,373.70L191.01,372.53L195.69,372.53L195.69,371.36L200.37,371.36L200.37,370.19L205.05,370.19L205.05,369.02L209.73,369.02L209.73,367.85L214.41,367.85L214.41,366.68L219.09,366.68L219.09,365.51L223.77,365.51L223.77,364.34L228.45,364.34L228.45,363.17L234.30,363.17L234.30,362.00L238.98,362.00L238.98,360.83L243.66,360.83L243.66,359.66L249.51,359.66L249.51,358.49L254.19,358.49L254.19,357.32L260.04,357.32L260.04,356.15L265.89,356.15L265.89,354.98L271.74,354.98L271.74,353.81L278.76,353.81L278.76,352.64L285.78,352.64L285.78,351.47L292.80,351.47L292.80,350.30L300.99,350.30L300.99,349.13L309.18,349.13L309.18,347.96L319.71,347.96L319.71,346.79L330.24,346.79L330.24,345.62L343.11,345.62L343.11,344.45L358.32,344.45L358.32,343.28L379.38,343.28L379.38,342.11L409.80,342.11L409.80,340.94L481.17,340.94L481.17,339.77L536.16,339.77L536.16,338.60L537.33,338.60L537.33,341.38L536.16,341.38L536.16,342.55L481.17,342.55L481.17,343.72L409.80,343.72L409.80,344.89L379.38,344.89L379.38,346.06L358.32,346.06L358.32,347.23L343.11,347.23L343.11,348.40L330.24,348.40L330.24,349.57L319.71,349.57L319.71,350.74L309.18,350.74L309.18,351.91L300.99,351.91L300.99,353.08L292.80,353.08L292.80,354.25L285.78,354.25L285.78,355.42L278.76,355.42L278.76,356.59L271.74,356.59L271.74,357.76L265.89,357.76L265.89,358.93L260.04,358.93L260.04,360.10L254.19,360.10L254.19,361.27L249.51,361.27L249.51,362.44L243.66,362.44L243.66,363.61L238.98,363.61L238.98,364.78L234.30,364.78L234.30,365.95L228.45,365.95L228.45,367.12L223.77,367.12L223.77,368.29L219.09,368.29L219.09,369.46L214.41,369.46L214.41,370.63L209.73,370.63L209.73,371.80L205.05,371.80L205.05,372.97L200.37,372.97L200.37,374.14L195.69,374.14L195.69,375.31L191.01,375.31L191.01,376.48L185.16,376.48L185.16,377.65L180.48,377.65L180.48,378.82L174.63,378.82L174.63,379.99L167.61,379.99L167.61,381.16L159.42,381.16L159.42,382.33L134.85,382.33L134.85,381.16L127.83,381.16L127.83,379.99L121.98,379.99L121.98,378.82L118.47,378.82L118.47,377.65L113.79,377.65L113.79,376.48L111.45,376.48L111.45,375.31L107.94,375.31L107.94,374.14L105.60,374.14L105.60,372.97L102.09,372.97L102.09,371.80L99.75,371.80L99.75,370.63L97.41,370.63L97.41,369.46L95.07,369.46L95.07,368.29L93.90,368.29L93.90,367.12L91.56,367.12L91.56,365.95L89.22,365.95L89.22,364.78L86.88,364.78L86.88,363.61L85.71,363.61L85.71,362.44L83.37,362.44L83.37,361.27L81.03,361.27L81.03,360.10L79.86,360.10L79.86,358.93L77.52,358.93L77.52,357.76L75.18,357.76L75.18,356.59L72.84,356.59L72.84,355.42L71.67,355.42L71.67,354.25L69.33,354.25L69.33,353.08L66.99,353.08L66.99,351.91L64.65,351.91L64.65,350.74L62.31,350.74L62.31,349.57L59.97,349.57Z" fill="#ff0000"/>
<path d="M59.97,371.36L65.82,371.36L65.82,372.53L72.84,372.53L72.84,373.70L89.22,373.70L89.22,372.53L93.90,372.53L93.90,371.36L97.41,371.36L97.41,370.19L100.92,370.19L100.92,369.02L103.26,369.02L103.26,367.85L105.60,367.85L105.60,366.68L107.94,366.68L107.94,365.51L110.28,365.51L110.28,364.34L112.62,364.34L112.62,363.17L113.79,363.17L113.79,362.00L114.96,362.00L114.96,360.83L117.30,360.83L117.30,359.66L118.47,359.66L118.47,358.49L120.81,358.49L120.81,357.32L121.98,357.32L121.98,356.15L124.32,356.15L124.32,354.98L125.49,354.98L125.49,353.81L127.83,353.81L127.83,352.64L129.00,352.64L129.00,351.47L131.34,351.47L131.34,350.30L132.51,350.30L132.51,349.13L134.85,349.13L134.85,347.96L136.02,347.96L136.02,346.79L137.19,346.79L137.19,345.62L139.53,345.62L139.53,344.45L140.70,344.45L140.70,343.28L143.04,343.28L143.04,342.11L144.21,342.11L144.21,340.94L146.55,340.94L146.55,339.77L148.89,339.77L148.89,338.60L151.23,338.60L151.23,337.43L153.57,337.43L153.57,336.26L155.91,336.26L155.91,335.09L158.25,335.09L158.25,333.92L160.59,333.92L160.59,332.75L162.93,332.75L162.93,331.58L165.27,331.58L165.27,330.41L167.61,330.41L167.61,329.24L171.12,329.24L171.12,328.07L174.63,328.07L174.63,326.90L178.14,326.90L178.14,325.73L181.65,325.73L181.65,324.56L185.16,324.56L185.16,323.39L191.01,323.39L191.01,322.22L195.69,322.22L195.69,321.05L202.71,321.05L202.71,319.88L210.90,319.88L210.90,318.71L221.43,318.71L221.43,317.54L234.30,317.54L234.30,316.37L251.85,316.37L251.85,315.20L279.93,315.20L279.93,314.03L334.92,314.03L334.92,312.86L537.33,312.86L537.33,315.64L334.92,315.64L334.92,316.81L279.93,316.81L279.93,317.98L251.85,317.98L251.85,319.15L234.30,319.15L234.30,320.32L221.43,320.32L221.43,321.49L210.90,321.49L210.90,322.66L202.71,322.66L202.71,323.83L195.69,323.83L195.69,325.00L191.01,325.00L191.01,326.17L185.16,326.17L185.16,327.34L181.65,327.34L181.65,328.51L178.14,328.51L178.14,329.68L174.63,329.68L174.63,330.85L171.12,330.85L171.12,332.02L167.61,332.02L167.61,333.19L165.27,333.19L165.27,334.36L162.93,334.36L162.93,335.53L160.59,335.53L160.59,336.70L158.25,336.70L158.25,337.87L155.91,337.87L155.91,339.04L153.57,339.04L153.57,340.21L151.23,340.21L151.23,341.38L148.89,341.38L148.89,343.72L146.55,343.72L146.55,344.89L144.21,344.89L144.21,346.06L143.04,346.06L143.04,347.23L140.70,347.23L140.70,348.40L139.53,348.40L139.53,349.57L137.19,349.57L137.19,350.74L136.02,350.74L136.02,351.91L134.85,351.91L134.85,353.08L132.51,353.08L132.51,354.25L131.34,354.25L131.34,355.42L129.00,355.42L129.00,356.59L127.83,356.59L127.83,357.76L125.49,357.76L125.49,358.93L124.32,358.93L124.32,360.10L121.98,360.10L121.98,361.27L120.81,361.27L120.81,362.44L118.47,362.44L118.47,363.61L117.30,363.61L117.30,364.78L114.96,364.78L114.96,365.95L112.62,365.95L112.62,367.12L110.28,367.12L110.28,368.29L107.94,368.29L107.94,369.46L105.60,369.46L105.60,370.63L103.26,370.63L103.26,371.80L100.92,371.80L100.92,372.97L97.41,372.97L97.41,374.14L93.90,374.14L93.90,375.31L89.22,375.31L89.22,376.48L72.84,376.48L72.84,375.31L65.82,375.31L65.82,374.14L59.97,374.14Z" fill="#00bfbf"/>
</g>
<line x1="62.5" x2="534.9" y1="423.5" y2="423.5" stroke="#5a5a5a" stroke-width="1.3"/>
<circle cx="235.2" cy="379.3" r="5.9" fill="#0000ff"/>
<circle cx="260.4" cy="358.5" r="5.9" fill="#ff0000"/>
<circle cx="278.6" cy="299.1" r="5.9" fill="#008000"/>
<circle cx="288.4" cy="316.2" r="5.9" fill="#00bfbf"/>
<rect x="62.5" y="30.6" width="472.4" height="235.20000000000002" fill="none" stroke="#474747" stroke-width="1.3"/>
<path d="M73.98,265.8v-2.5M73.98,30.6v2.5M84.11,265.8v-2.5M84.11,30.6v2.5M92.39,265.8v-2.5M92.39,30.6v2.5M99.40,265.8v-2.5M99.40,30.6v2.5M105.46,265.8v-2.5M105.46,30.6v2.5M110.81,265.8v-2.5M110.81,30.6v2.5M115.60,265.8v-5M115.60,30.6v5M147.09,265.8v-2.5M147.09,30.6v2.5M165.51,265.8v-2.5M165.51,30.6v2.5M178.58,265.8v-2.5M178.58,30.6v2.5M188.71,265.8v-2.5M188.71,30.6v2.5M196.99,265.8v-2.5M196.99,30.6v2.5M204.00,265.8v-2.5M204.00,30.6v2.5M210.06,265.8v-2.5M210.06,30.6v2.5M215.41,265.8v-2.5M215.41,30.6v2.5M220.20,265.8v-5M220.20,30.6v5M251.69,265.8v-2.5M251.69,30.6v2.5M270.11,265.8v-2.5M270.11,30.6v2.5M283.18,265.8v-2.5M283.18,30.6v2.5M293.31,265.8v-2.5M293.31,30.6v2.5M301.59,265.8v-2.5M301.59,30.6v2.5M308.60,265.8v-2.5M308.60,30.6v2.5M314.66,265.8v-2.5M314.66,30.6v2.5M320.01,265.8v-2.5M320.01,30.6v2.5M324.80,265.8v-5M324.80,30.6v5M356.29,265.8v-2.5M356.29,30.6v2.5M374.71,265.8v-2.5M374.71,30.6v2.5M387.78,265.8v-2.5M387.78,30.6v2.5M397.91,265.8v-2.5M397.91,30.6v2.5M406.19,265.8v-2.5M406.19,30.6v2.5M413.20,265.8v-2.5M413.20,30.6v2.5M419.26,265.8v-2.5M419.26,30.6v2.5M424.61,265.8v-2.5M424.61,30.6v2.5M429.40,265.8v-5M429.40,30.6v5M460.89,265.8v-2.5M460.89,30.6v2.5M479.31,265.8v-2.5M479.31,30.6v2.5M492.38,265.8v-2.5M492.38,30.6v2.5M502.51,265.8v-2.5M502.51,30.6v2.5M510.79,265.8v-2.5M510.79,30.6v2.5M517.80,265.8v-2.5M517.80,30.6v2.5M523.86,265.8v-2.5M523.86,30.6v2.5M529.21,265.8v-2.5M529.21,30.6v2.5M62.5,88.70h4.5M534.9,88.70h-4.5M62.5,148.30h4.5M534.9,148.30h-4.5M62.5,206.70h4.5M534.9,206.70h-4.5" stroke="#474747" stroke-width="1.3" fill="none"/>
<rect x="62.5" y="281.2" width="472.4" height="209.15000000000003" fill="none" stroke="#474747" stroke-width="1.3"/>
<path d="M73.98,490.35v-2.5M73.98,281.2v2.5M84.11,490.35v-2.5M84.11,281.2v2.5M92.39,490.35v-2.5M92.39,281.2v2.5M99.40,490.35v-2.5M99.40,281.2v2.5M105.46,490.35v-2.5M105.46,281.2v2.5M110.81,490.35v-2.5M110.81,281.2v2.5M115.60,490.35v-5M115.60,281.2v5M147.09,490.35v-2.5M147.09,281.2v2.5M165.51,490.35v-2.5M165.51,281.2v2.5M178.58,490.35v-2.5M178.58,281.2v2.5M188.71,490.35v-2.5M188.71,281.2v2.5M196.99,490.35v-2.5M196.99,281.2v2.5M204.00,490.35v-2.5M204.00,281.2v2.5M210.06,490.35v-2.5M210.06,281.2v2.5M215.41,490.35v-2.5M215.41,281.2v2.5M220.20,490.35v-5M220.20,281.2v5M251.69,490.35v-2.5M251.69,281.2v2.5M270.11,490.35v-2.5M270.11,281.2v2.5M283.18,490.35v-2.5M283.18,281.2v2.5M293.31,490.35v-2.5M293.31,281.2v2.5M301.59,490.35v-2.5M301.59,281.2v2.5M308.60,490.35v-2.5M308.60,281.2v2.5M314.66,490.35v-2.5M314.66,281.2v2.5M320.01,490.35v-2.5M320.01,281.2v2.5M324.80,490.35v-5M324.80,281.2v5M356.29,490.35v-2.5M356.29,281.2v2.5M374.71,490.35v-2.5M374.71,281.2v2.5M387.78,490.35v-2.5M387.78,281.2v2.5M397.91,490.35v-2.5M397.91,281.2v2.5M406.19,490.35v-2.5M406.19,281.2v2.5M413.20,490.35v-2.5M413.20,281.2v2.5M419.26,490.35v-2.5M419.26,281.2v2.5M424.61,490.35v-2.5M424.61,281.2v2.5M429.40,490.35v-5M429.40,281.2v5M460.89,490.35v-2.5M460.89,281.2v2.5M479.31,490.35v-2.5M479.31,281.2v2.5M492.38,490.35v-2.5M492.38,281.2v2.5M502.51,490.35v-2.5M502.51,281.2v2.5M510.79,490.35v-2.5M510.79,281.2v2.5M517.80,490.35v-2.5M517.80,281.2v2.5M523.86,490.35v-2.5M523.86,281.2v2.5M529.21,490.35v-2.5M529.21,281.2v2.5M62.5,294.10h4.5M534.9,294.10h-4.5M62.5,358.80h4.5M534.9,358.80h-4.5M62.5,423.50h4.5M534.9,423.50h-4.5M62.5,488.20h4.5M534.9,488.20h-4.5" stroke="#474747" stroke-width="1.3" fill="none"/>
<g font-size="12.7" fill="#484848" text-anchor="end">
<text x="57.3" y="33.9">100</text>
<text x="57.3" y="92.0">50</text>
<text x="57.3" y="151.6">0</text>
<text x="57.3" y="210.0">-50</text>
<text x="57.3" y="269.3">-100</text>
<text x="57.3" y="297.4">-90</text>
<text x="57.3" y="362.1">-135</text>
<text x="57.3" y="426.8">-180</text>
<text x="57.3" y="491.5">-225</text>
</g>
<g font-size="12.7" fill="#484848">
<text x="106.5" y="511.6">10<tspan font-size="9.3" dy="-9.2" dx="0.3">0</tspan></text>
<text x="210.6" y="511.6">10<tspan font-size="9.3" dy="-9.2" dx="0.3">1</tspan></text>
<text x="315.2" y="511.6">10<tspan font-size="9.3" dy="-9.2" dx="0.3">2</tspan></text>
<text x="419.8" y="511.6">10<tspan font-size="9.3" dy="-9.2" dx="0.3">3</tspan></text>
<text x="525.4" y="511.6">10<tspan font-size="9.3" dy="-9.2" dx="0.3">4</tspan></text>
</g>
<g font-size="12.7" fill="#000" stroke="#000" stroke-width="0.1">
<text x="297.6" y="18.2" text-anchor="middle" textLength="82.6" lengthAdjust="spacingAndGlyphs">Bode Diagram</text>
<text x="241" y="533.5" textLength="61.8" lengthAdjust="spacingAndGlyphs">Frequency</text>
<text x="311.5" y="533.5" textLength="38.6" lengthAdjust="spacingAndGlyphs">(rad/s)</text>
<text transform="translate(17.3,195.2) rotate(-90)" font-size="13.4" textLength="90.4" lengthAdjust="spacing">Magnitude (dB)</text>
<text transform="translate(17.3,422.8) rotate(-90)" font-size="13.4" textLength="71.8" lengthAdjust="spacing">Phase (deg)</text>
</g>
<g font-size="14.8" fill="#000" stroke="#000" stroke-width="0.12">
<text x="173.9" y="81.1" textLength="204.6" lengthAdjust="spacingAndGlyphs">PSO based FOPID controller</text>
<text x="333" y="132.2" textLength="202.4" lengthAdjust="spacingAndGlyphs" clip-path="url(#c1)">SCA based FOPID controller</text>
<text x="144.8" y="212.1" textLength="205.6" lengthAdjust="spacingAndGlyphs">NMS based FOPID controller</text>
<text x="269.9" y="246.1" textLength="185.6" lengthAdjust="spacingAndGlyphs">LJ based FOPID controller</text>
</g>
<line x1="274.7" y1="86.4" x2="253.5" y2="125.9" stroke="#4a4a4a" stroke-width="0.55"/><polygon points="248.0,136.0 250.2,119.9 253.5,125.9 260.2,125.3" fill="#000"/>
<line x1="432.5" y1="137.3" x2="454.8" y2="176.8" stroke="#4a4a4a" stroke-width="0.55"/><polygon points="460.5,186.8 448.1,176.4 454.8,176.8 458.0,170.8" fill="#000"/>
<line x1="245.5" y1="197.9" x2="265.0" y2="164.8" stroke="#4a4a4a" stroke-width="0.55"/><polygon points="270.8,154.9 268.0,170.9 265.0,164.8 258.2,165.1" fill="#000"/>
<line x1="361.5" y1="231.3" x2="372.8" y2="208.8" stroke="#4a4a4a" stroke-width="0.55"/><polygon points="377.9,198.5 376.2,214.6 372.8,208.8 366.0,209.5" fill="#000"/>
</svg>
</body></html>
